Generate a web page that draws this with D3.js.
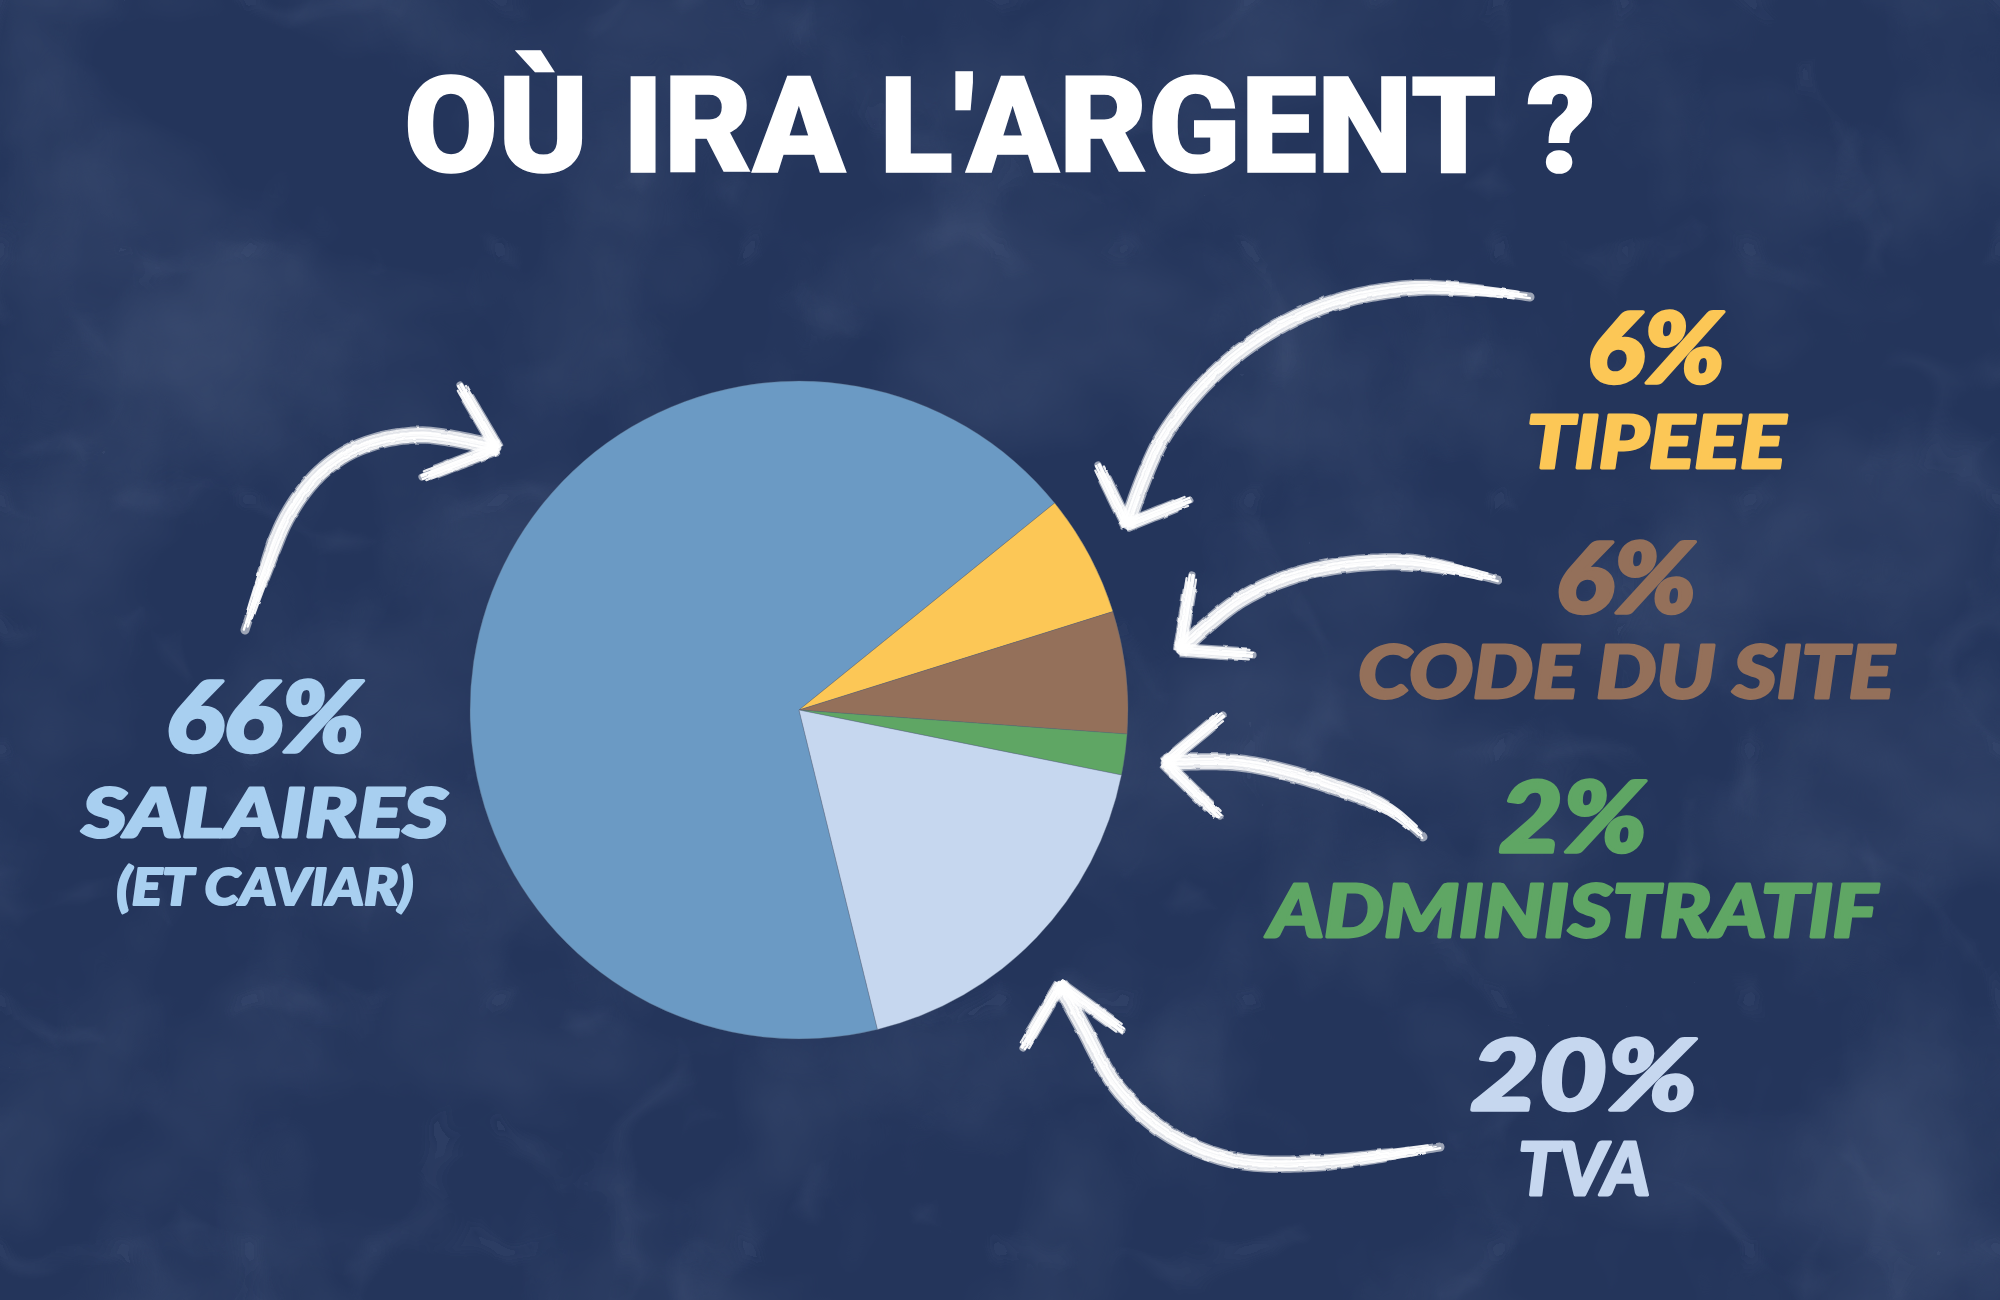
<!DOCTYPE html>
<html>
<head>
<meta charset="utf-8">
<script src="https://cdn.jsdelivr.net/npm/d3@7/dist/d3.min.js"></script>
<style>
  html, body { margin: 0; padding: 0; background: #24355b; }
  svg { display: block; }
</style>
</head>
<body>
<svg id="chart" width="2000" height="1300"></svg>
<script>
// ---------------- DATA ----------------
const categories   = ["Salaires", "Tipeee", "Code du site", "Administratif", "TVA"];
// slice sizes as drawn in the pie (percent)
const sliceValues  = [68, 6, 6, 2, 18];
// percentages printed in the labels
const percentLabels = ["66%", "6%", "6%", "2%", "20%"];
const nameLabels    = ["SALAIRES", "TIPEEE", "CODE DU SITE", "ADMINISTRATIF", "TVA"];
const subLabels     = ["(ET CAVIAR)", "", "", "", ""];
const titleText     = "OÙ IRA L'ARGENT ?";

// ---------------- STYLE / LAYOUT ----------------
const W = 2000, H = 1300;
const sliceColors = ["#6b9ac4", "#fcc756", "#94705a", "#5fa664", "#c6d7ef"];
const labelColors = ["#a8cff0", "#fcc756", "#94705a", "#5fa664", "#c6d7ef"];
const pieCenter = [799, 710], pieRadius = 329;
const pieStartDeg = 166.2;

const labelLayout = [
  {cx: 265, pBase: 752, pW: 199, pSize: 97, nBase: 837, nW: 366, nSize: 66, sBase: 905, sW: 297, sSize: 52},
  {cx: 1656, pBase: 383, pW: 138, pSize: 97, nBase: 468, nW: 259, nSize: 73},
  {cx: 1626, pBase: 613, pW: 141, pSize: 97, nBase: 698, nW: 536, nSize: 73},
  {cx: 1573, pBase: 852, pW: 148, pSize: 97, nBase: 937, nW: 609, nSize: 73},
  {cx: 1584, pBase: 1110, pW: 227, pSize: 97, nBase: 1195, nW: 132, nSize: 73}
];

// hand-drawn arrow annotations (shaft points from tail to tip, and arrowhead arm ends)
const arrows = [
  {shaft: [[245,630],[263,577],[287,517],[320,473],[360,447],[420,435],[497,448]], arms: [[460,385],[422,477]]},
  {shaft: [[1530,297],[1413,288],[1313,310],[1230,360],[1163,437],[1127,525]], arms: [[1098,465],[1190,500]]},
  {shaft: [[1498,580],[1407,562],[1307,572],[1240,600],[1180,650]], arms: [[1192,575],[1253,655]]},
  {shaft: [[1423,837],[1390,810],[1323,783],[1240,763],[1165,763]], arms: [[1223,715],[1220,817]]},
  {shaft: [[1440,1147],[1317,1163],[1233,1160],[1167,1133],[1117,1087],[1083,1027],[1060,985]], arms: [[1023,1048],[1122,1030]]}
];

const svg = d3.select("#chart");
const defs = svg.append("defs");

// paper texture filters
const fDark = defs.append("filter").attr("id","paperDark").attr("x",0).attr("y",0).attr("width",1).attr("height",1);
fDark.append("feTurbulence").attr("type","fractalNoise").attr("baseFrequency","0.0035 0.0045").attr("numOctaves",4).attr("seed",3);
fDark.append("feColorMatrix").attr("type","matrix")
  .attr("values","0 0 0 0 0.09  0 0 0 0 0.13  0 0 0 0 0.25  1.2 0 0 0 -0.55");

const fLight = defs.append("filter").attr("id","paperLight").attr("x",0).attr("y",0).attr("width",1).attr("height",1);
fLight.append("feTurbulence").attr("type","fractalNoise").attr("baseFrequency","0.006 0.004").attr("numOctaves",4).attr("seed",11);
fLight.append("feColorMatrix").attr("type","matrix")
  .attr("values","0 0 0 0 0.2  0 0 0 0 0.27  0 0 0 0 0.42  0.9 0 0 0 -0.45");

// crease lines
const fCrease = defs.append("filter").attr("id","crease").attr("x",0).attr("y",0).attr("width",1).attr("height",1);
fCrease.append("feTurbulence").attr("type","turbulence").attr("baseFrequency","0.004").attr("numOctaves",3).attr("seed",5).attr("result","t");
fCrease.append("feColorMatrix").attr("in","t").attr("type","matrix")
  .attr("values","0 0 0 0 0.09  0 0 0 0 0.13  0 0 0 0 0.25  -2.2 0 0 0 0.3");

// brush roughness filter
const fBrush = defs.append("filter").attr("id","brush").attr("x","-5%").attr("y","-5%").attr("width","110%").attr("height","110%");
fBrush.append("feTurbulence").attr("type","fractalNoise").attr("baseFrequency","0.08").attr("numOctaves",2).attr("seed",2).attr("result","n");
fBrush.append("feDisplacementMap").attr("in","SourceGraphic").attr("in2","n").attr("scale",2.5)
  .attr("xChannelSelector","R").attr("yChannelSelector","G");

// background
svg.append("rect").attr("width",W).attr("height",H).attr("fill","#24355b");
svg.append("rect").attr("width",W).attr("height",H).attr("filter","url(#paperLight)").attr("opacity",0.35);
svg.append("rect").attr("width",W).attr("height",H).attr("filter","url(#paperDark)").attr("opacity",0.6);
svg.append("rect").attr("width",W).attr("height",H).attr("filter","url(#crease)").attr("opacity",0.6);

// ---------------- TITLE ----------------
svg.append("text")
  .attr("x", W/2).attr("y", 172)
  .attr("text-anchor","middle")
  .attr("font-family","Roboto, 'Liberation Sans', sans-serif")
  .attr("font-weight",900)
  .attr("font-size",133)
  .attr("fill","#ffffff")
  .attr("stroke","#ffffff").attr("stroke-width",1.5)
  .attr("textLength",1192)
  .attr("lengthAdjust","spacingAndGlyphs")
  .text(titleText);

// ---------------- PIE ----------------
const pie = d3.pie().sort(null).value(d => d)
  .startAngle(pieStartDeg * Math.PI/180)
  .endAngle(pieStartDeg * Math.PI/180 + 2*Math.PI);
const arc = d3.arc().innerRadius(0).outerRadius(pieRadius);
const color = d3.scaleOrdinal().domain(categories).range(sliceColors);

const pieG = svg.append("g").attr("transform", `translate(${pieCenter[0]},${pieCenter[1]})`);
pieG.selectAll("path")
  .data(pie(sliceValues))
  .join("path")
  .attr("d", arc)
  .attr("fill", (d,i) => color(categories[i]))
  .attr("stroke", "#59677f")
  .attr("stroke-opacity", 0.45)
  .attr("stroke-width", 0.8);

// ---------------- ARROWS ----------------
const arrowG = svg.append("g").attr("filter","url(#brush)");
const lineGen = d3.line().curve(d3.curveCatmullRom.alpha(0.5));
const strandOffsets = [-1, -0.78, -0.55, -0.3, -0.08, 0.12, 0.35, 0.58, 0.8, 1];
const strandOpac    = [0.55, 0.9, 0.75, 1, 0.95, 0.85, 1, 0.8, 0.9, 0.5];
const strandCut     = [14, 4, 9, 0, 2, 6, 1, 8, 3, 12];

function brushStroke(points, width, taperTail) {
  const tmp = arrowG.append("path").attr("d", lineGen(points)).attr("fill","none").attr("stroke","none");
  const node = tmp.node();
  const L = node.getTotalLength();
  const N = Math.max(4, Math.ceil(L/4));
  const samples = d3.range(N+1).map(i => { const p = node.getPointAtLength(i/N*L); return [p.x, p.y]; });
  tmp.remove();
  const normals = samples.map((p,i) => {
    const a = samples[Math.max(0,i-1)], b = samples[Math.min(N,i+1)];
    const dx = b[0]-a[0], dy = b[1]-a[1], l = Math.hypot(dx,dy) || 1;
    return [-dy/l, dx/l];
  });
  const widthAt = i => {
    const t = i/N;
    return taperTail ? width*(0.55 + 0.45*Math.min(1, t*4)) : width;
  };
  arrowG.append("path")
    .attr("d", d3.line()(samples))
    .attr("fill","none").attr("stroke","#ffffff").attr("stroke-opacity",0.55)
    .attr("stroke-width", width*0.6).attr("stroke-linecap","round");
  strandOffsets.forEach((s,k) => {
    const cut = taperTail ? Math.min(strandCut[k], Math.floor(N/3)) : Math.min(Math.floor(strandCut[k]/3), Math.floor(N/4));
    const pts = samples.slice(cut).map((p,j) => {
      const i = j + cut;
      const w = widthAt(i);
      return [p[0] + normals[i][0]*s*w/2, p[1] + normals[i][1]*s*w/2];
    });
    arrowG.append("path")
      .attr("d", d3.line()(pts))
      .attr("fill","none")
      .attr("stroke","#ffffff")
      .attr("stroke-opacity", strandOpac[k])
      .attr("stroke-width", 2.3)
      .attr("stroke-linecap","round");
  });
}

arrows.forEach(a => {
  brushStroke(a.shaft, 15, true);
  const tip = a.shaft[a.shaft.length-1];
  a.arms.forEach(end => brushStroke([end, tip], 12, false));
});

// ---------------- LABELS ----------------
const labelFont = "Lato, 'Open Sans', sans-serif";
const labG = svg.append("g");
function addLabel(txt, x, y, size, w, fill, sw) {
  labG.append("text")
    .attr("x", x).attr("y", y)
    .attr("text-anchor","middle")
    .attr("font-family", labelFont).attr("font-weight",900).attr("font-style","italic")
    .attr("font-size", size)
    .attr("fill", fill)
    .attr("stroke", fill).attr("stroke-width", sw).attr("stroke-linejoin","round")
    .attr("textLength", w).attr("lengthAdjust","spacingAndGlyphs")
    .text(txt);
}
categories.forEach((c,i) => {
  const L = labelLayout[i];
  addLabel(percentLabels[i], L.cx, L.pBase, L.pSize, L.pW, labelColors[i], 3.5);
  addLabel(nameLabels[i], L.cx, L.nBase, L.nSize, L.nW, labelColors[i], 2.8);
  if (subLabels[i]) addLabel(subLabels[i], L.cx, L.sBase, L.sSize, L.sW, labelColors[i], 2.2);
});
</script>
</body>
</html>
